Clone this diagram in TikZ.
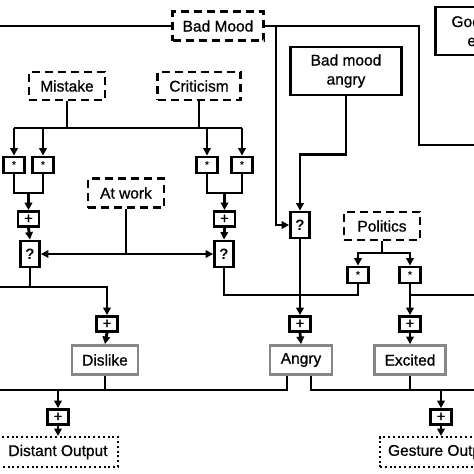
\documentclass[tikz,border=0pt]{standalone}
\usepackage{fontspec}
\setmainfont{Liberation Sans}
\newfontfamily\labelfont{Liberation Sans}[FakeBold=0.8]
\usetikzlibrary{arrows.meta}
\definecolor{stategray}{RGB}{135,135,135}
\tikzset{
  wire/.style={line width=2.8pt},
  feed/.style={wire,-{Triangle[length=7.5pt,width=7.5pt]}},
  twofeed/.style={wire,{Triangle[length=7.5pt,width=7.5pt]}-{Triangle[length=7.5pt,width=7.5pt]}},
  label/.style={inner sep=0pt,align=center,font=\labelfont\fontsize{15.5}{19}\selectfont},
  dashbox/.style={label,draw,line width=2.8pt,dash pattern=on 8pt off 5pt},
  solidbox/.style={label,draw,line width=2.8pt},
  statebox/.style={label,draw=stategray,line width=2.8pt,minimum height=29pt},
  outbox/.style={label,draw,line width=2pt,dash pattern=on 2pt off 2.8pt,minimum height=30pt},
  mulbox/.style={draw,line width=2.8pt,inner sep=0pt,minimum width=21pt,minimum height=16pt,font=\fontsize{10}{10}\selectfont\bfseries},
  addbox/.style={draw,line width=2.8pt,inner sep=0pt,minimum width=21pt,minimum height=15pt,font=\labelfont\fontsize{15}{15}\selectfont},
  askbox/.style={draw,line width=2.8pt,inner sep=0pt,minimum width=19pt,minimum height=26pt,font=\fontsize{15}{15}\selectfont\bfseries}
}
\begin{document}
\begin{tikzpicture}[x=1pt,y=-1pt]
		\useasboundingbox (0,0) rectangle (474,474);
		\clip (0,0) rectangle (474,474);
		%%%%% START %%%%%
		% context
		\node[dashbox,minimum width=91pt,minimum height=29pt] (badmood) at (218,26) {Bad Mood};
		\node[dashbox,minimum width=76pt,minimum height=28pt] (mistake) at (67,86) {Mistake};
		\node[dashbox,minimum width=83pt,minimum height=28pt] (criticism) at (199,86) {Criticism};
		\node[dashbox,minimum width=76pt,minimum height=29pt] (atwork) at (126,193) {At work};
		\node[dashbox,minimum width=76pt,minimum height=28pt] (politics) at (382,226) {Politics};
		\node[solidbox,minimum width=111pt,minimum height=48pt] (badangry) at (346,71) {Bad mood\\angry};
		\node[solidbox,minimum width=113pt,minimum height=48pt] (goodexcited) at (492,31) {Good mood\\excited};
		
		% operators
		\node[mulbox] (mA) at (14,165) {*};
		\node[mulbox] (mB) at (43,165) {*};
		\node[mulbox] (mC) at (207,165) {*};
		\node[mulbox] (mD) at (242,165) {*};
		\node[addbox] (pA) at (28.5,219) {+};
		\node[addbox] (pB) at (224.5,219) {+};
		\node[askbox] (qA) at (30,254) {?};
		\node[askbox] (qB) at (224,254) {?};
		\node[askbox] (qC) at (300,225) {?};
		\node[mulbox] (sA) at (358,275) {*};
		\node[mulbox] (sB) at (410,275) {*};
		\node[addbox] (dP) at (107,324) {+};
		\node[addbox] (cP) at (300,324) {+};
		\node[addbox] (eP) at (410,324) {+};
		\node[addbox] (distP) at (58,417) {+};
		\node[addbox] (gesP) at (441,417) {+};
		
		% states and outputs
		\node[statebox,minimum width=66pt] (dislike) at (105,360) {Dislike};
		\node[statebox,minimum width=62pt] (angry) at (301,360) {Angry};
		\node[statebox,minimum width=71pt] (excited) at (410,360) {Excited};
		\node[outbox,minimum width=120pt] (distant) at (58,452) {Distant Output};
		\node[outbox,minimum width=122pt] (gesture) at (441,452) {Gesture Output};
		
		% bad mood
		\coordinate (leftTop) at (0,26);
		\coordinate (turnTop) at (419,145);
		\coordinate (rightTop) at (474,145);
		\coordinate (dropMood) at (276,26);
		\draw[wire] (leftTop) -- (badmood.west);
		\draw[wire] (badmood.east) -| (turnTop) -- (rightTop);
		\draw[feed] (dropMood) |- (qC.west);
		\draw[feed] (badangry.south) -- ++(0,58) -| (qC.north);
		
		% mistake and criticism
		\coordinate (busL) at (14,128);
		\coordinate (busR) at (242,128);
		\draw[wire] (busL) -- (busR);
		\draw[wire] (mistake.south) -- (mistake.south |- busL);
		\draw[wire] (criticism.south) -- (criticism.south |- busL);
		\foreach \s in {mA,mB,mC,mD}
			\draw[feed] (\s.north |- busL) -- (\s.north);
		\coordinate (jA) at (28.5,193);
		\coordinate (jB) at (224.5,193);
		\draw[wire] (mA.south) |- (jA) -| (mB.south);
		\draw[wire] (mC.south) |- (jB) -| (mD.south);
		\draw[feed] (jA) -- (pA.north);
		\draw[feed] (jB) -- (pB.north);
		\draw[feed] (pA.south) -- (qA.north);
		\draw[feed] (pB.south) -- (qB.north);
		
		% at work
		\draw[wire] (atwork.south) -- (atwork.south |- qA.east);
		\draw[twofeed] (qA.east) -- (qB.west);
		
		% towards the states
		\coordinate (leftA) at (0,287);
		\coordinate (jP) at (358,295);
		\coordinate (rightB) at (474,295);
		\coordinate (jPol) at (382,253);
		\draw[wire] (qA.south) -- (qA.south |- leftA);
		\draw[feed] (leftA) -| (dP.north);
		\draw[wire] (qB.south) |- (jP) -- (sA.south);
		\draw[wire] (politics.south) -- (jPol);
		\draw[feed] (jPol) -| (sA.north);
		\draw[feed] (jPol) -| (sB.north);
		\draw[wire] (sB.south) |- (rightB);
		\draw[feed] (sB.south) -- (eP.north);
		\draw[feed] (qC.south) -- (cP.north);
		\draw[feed] (dP.south) -- (dislike.north);
		\draw[feed] (cP.south) -- (angry.north);
		\draw[feed] (eP.south) -- (excited.north);
		
		% outputs
		\coordinate (leftD) at (0,390);
		\coordinate (rightD) at (474,390);
		\draw[wire] (dislike.south) -- (dislike.south |- leftD);
		\draw[wire] (leftD) -| ([xshift=-14pt]angry.south);
		\draw[wire] ([xshift=10pt]angry.south) |- (rightD);
		\draw[wire] (excited.south) -- (excited.south |- rightD);
		\draw[feed] (distP.north |- leftD) -- (distP.north);
		\draw[feed] (gesP.north |- rightD) -- (gesP.north);
		\draw[feed] (distP.south) -- (distant.north);
		\draw[feed] (gesP.south) -- (gesture.north);
		%%%%% END %%%%%
	\end{tikzpicture}
\end{document}
